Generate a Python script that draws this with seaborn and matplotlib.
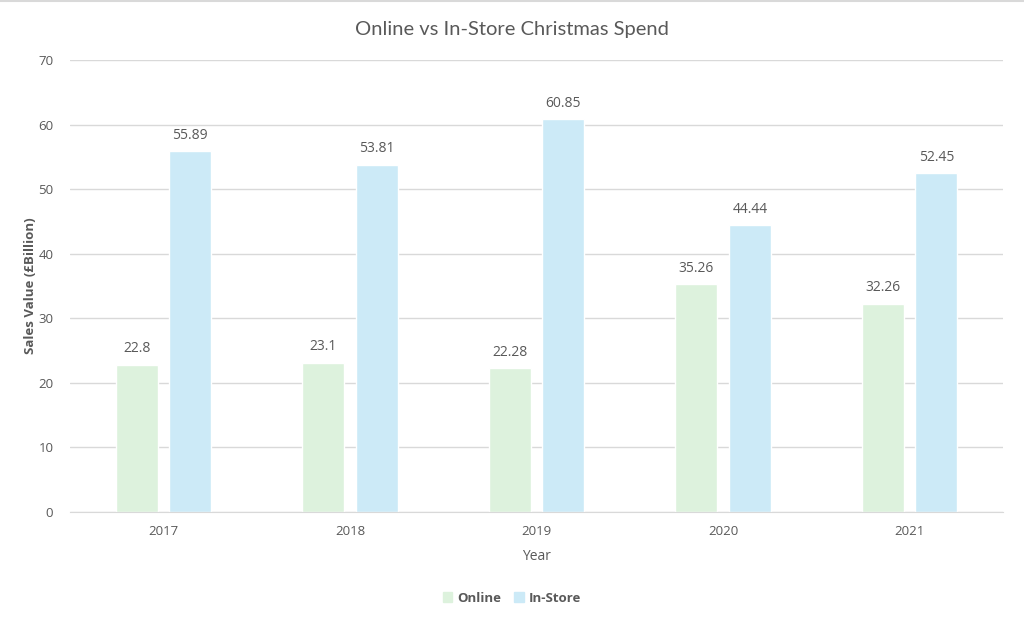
import pandas as pd
import matplotlib.pyplot as plt
import seaborn as sns

# chart data
years = ["2017", "2018", "2019", "2020", "2021"]
online = [22.8, 23.1, 22.28, 35.26, 32.26]
in_store = [55.89, 53.81, 60.85, 44.44, 52.45]
online_labels = ["22.8", "23.1", "22.28", "35.26", "32.26"]
in_store_labels = ["55.89", "53.81", "60.85", "44.44", "52.45"]

df = pd.DataFrame({
    "Year": years * 2,
    "Value": online + in_store,
    "Channel": ["Online"] * len(years) + ["In-Store"] * len(years),
})

sns.set_style("white")
plt.rcParams["font.family"] = ["Open Sans", "DejaVu Sans"]

text_col = "#595959"
grid_col = "#D9D9D9"

fig = plt.figure(figsize=(10.24, 6.18), dpi=100)
ax = fig.add_axes([0.0684, 0.1715, 0.9111, 0.7315])

sns.barplot(
    data=df, x="Year", y="Value", hue="Channel",
    palette={"Online": "#DDF2DD", "In-Store": "#CCEAF7"},
    width=0.573, gap=0.215, saturation=1, ax=ax, legend=False,
)

# value labels
for cont, labels in zip(ax.containers, [online_labels, in_store_labels]):
    ax.bar_label(cont, labels=labels, padding=6, fontsize=10, color=text_col)

ax.set_ylim(0, 70)
ax.set_yticks(range(0, 71, 10))
ax.yaxis.grid(True, color=grid_col, linewidth=1)
ax.set_axisbelow(True)
for side in ["top", "right", "left"]:
    ax.spines[side].set_visible(False)
ax.spines["bottom"].set_color(grid_col)
ax.tick_params(axis="both", length=0, labelsize=9.5, labelcolor=text_col)
ax.tick_params(axis="y", pad=12)
ax.tick_params(axis="x", pad=9)

ax.set_xlabel("Year", fontsize=10, color=text_col, labelpad=8)
ax.set_ylabel("Sales Value (£Billion)", fontsize=9.5, color=text_col,
              fontweight="bold")
ax.yaxis.set_label_coords(-0.035, 0.5)
ax.set_title("Online vs In-Store Christmas Spend", fontsize=14.5, color=text_col,
             family=["Lato", "DejaVu Sans"], pad=18, x=0.474)

# legend at bottom
handles = [plt.Rectangle((0, 0), 1, 1, color="#DDF2DD"),
           plt.Rectangle((0, 0), 1, 1, color="#CCEAF7")]
leg = fig.legend(handles, ["Online", "In-Store"], loc="center",
                 bbox_to_anchor=(0.5, 0.032), ncol=2, frameon=False,
                 handlelength=0.7, handleheight=0.7, handletextpad=0.4,
                 columnspacing=1.0, prop={"size": 9.5, "weight": "bold"})
for t in leg.get_texts():
    t.set_color(text_col)

# thin frame line at the top
fig.add_artist(plt.Line2D([0, 1], [0.998, 0.998], color="#D9D9D9", linewidth=1.5,
                          transform=fig.transFigure))

plt.savefig("out.png", dpi=100)
